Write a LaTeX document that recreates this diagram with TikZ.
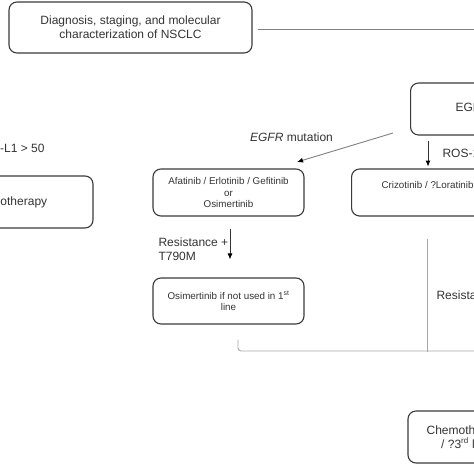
\documentclass[tikz,border=0pt]{standalone}
\usepackage{fontspec}
\setmainfont{Liberation Sans}
\usepackage{xcolor}
\usepackage{tikz}
\usetikzlibrary{arrows.meta}
\definecolor{boxline}{HTML}{3A3A3A}
\definecolor{txt}{HTML}{333333}
\definecolor{linegray}{HTML}{808080}
\definecolor{lightline}{HTML}{A8A8A8}

\begin{document}
\begin{tikzpicture}[x=1pt,y=-1pt,
  box/.style={draw=boxline, line width=1.1pt, rounded corners=8pt, align=center, text=txt, inner sep=2pt},
  bigtxt/.style={font=\fontsize{12}{14}\selectfont, text=txt},
  smalltxt/.style={font=\fontsize{9.8}{11.5}\selectfont, text=txt},
  conn/.style={draw=linegray, line width=0.9pt},
  arr/.style={conn, -{Latex[length=6pt,width=5pt,color=black]}}]
\useasboundingbox (0,0) rectangle (474,474);% whole picture, 1pt = 1px
\clip (0,0) rectangle (474,474);
% top box and line running off to the right
\node[box, bigtxt, minimum width=243pt, minimum height=51pt] (diag) at (130.5,27.5) {Diagnosis, staging, and molecular\\characterization of NSCLC};
\coordinate (diagR) at (480,29);
\draw[conn] (diag.east) ++(5,1.5) -- (diagR);
% EGFR box (cut at the right edge)
\node[box, minimum width=150pt, minimum height=52pt, anchor=west] (egfr) at (410,109) {};
\node[bigtxt, anchor=west] (egfrtxt) at (452,107.5) {EGFR};
% EGFR mutation branch
\node[bigtxt] (mutlbl) at (291.5,137) {\textit{EGFR} mutation};
\coordinate (mutA) at (393,133);
\coordinate (mutB) at (297,162);
\draw[arr] (mutA) -- (mutB);
\node[box, smalltxt, minimum width=151pt, minimum height=47pt] (afat) at (228.5,192.5) {Afatinib / Erlotinib / Gefitinib\\or\\Osimertinib};
\node[box, smalltxt, minimum width=151pt, minimum height=46pt] (osim) at (228.5,301) {Osimertinib if not used in 1\textsuperscript{st}\\line};
\draw[arr, draw=txt] ([xshift=1.5pt,yshift=-12pt]afat.south) -- ([xshift=1.5pt,yshift=18pt]osim.north);
\node[bigtxt, anchor=west, align=left] (reslbl) at (155,249) {Resistance +\\T790M};
% ROS-1 branch
\draw[arr, draw=txt] (egfr.south west) ++(18,5) -- ++(0,26);
\node[bigtxt, anchor=west] (roslbl) at (439,153) {ROS-1};
\node[box, minimum width=240pt, minimum height=47pt, anchor=west] (criz) at (351,192.5) {};
\node[smalltxt, anchor=west] (criztxt) at (378,185) {Crizotinib / ?Loratinib};
\draw[conn, draw=lightline] (criz.south west) ++(76,22) -- ++(0,113);
\node[bigtxt, anchor=west] (res2lbl) at (433,295) {Resistance};
% joining line below
\draw[conn, draw=lightline, rounded corners=3pt] (osim.south) ++(9.5,15) |- (480,351);
\node[box, bigtxt, minimum width=116pt, minimum height=52pt] (chemo) at (466,437) {Chemotherapy\\/ ?3\textsuperscript{rd} line};
% PD-L1 branch (cut at the left edge)
\node[bigtxt, anchor=east] (pdl) at (48,148) {PD-L1 > 50};
\node[box, bigtxt, minimum width=175pt, minimum height=52pt] (immuno) at (5.5,202) {Immunotherapy};
\end{tikzpicture}
\end{document}
